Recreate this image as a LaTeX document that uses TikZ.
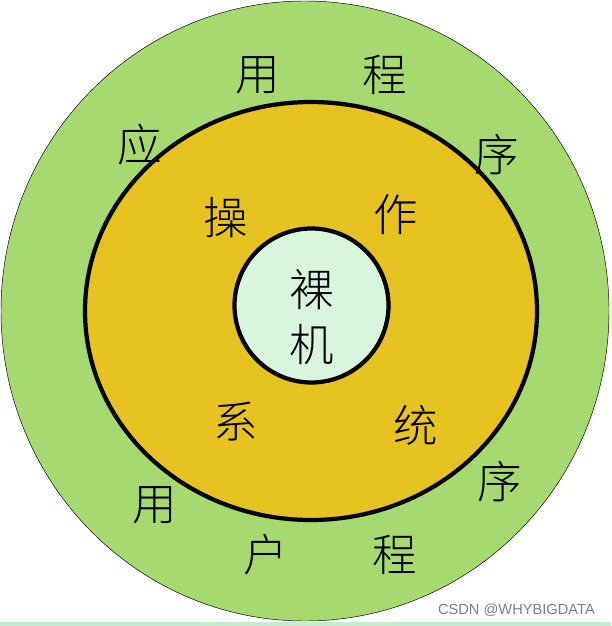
\documentclass[tikz,border=0pt]{standalone}
\usepackage{fontspec}
\newfontfamily\cjk{Noto Sans CJK SC Light}
\setsansfont{Liberation Sans}
\usepackage{xcolor}
\definecolor{ringgreen}{RGB}{166,217,112}
\definecolor{ringyellow}{RGB}{230,195,32}
\definecolor{coremint}{RGB}{216,246,222}
\definecolor{stripgreen}{RGB}{200,235,208}

\begin{document}
\begin{tikzpicture}[x=0.03cm, y=-0.03cm,
  hanzi/.style={font=\cjk\fontsize{38}{38}\selectfont, inner sep=0}]
\useasboundingbox (0,0) rectangle (611,626);
\fill[stripgreen] (0,622) rectangle (611,626);
\draw[black, thin, fill=ringgreen] (305,311) ellipse (304 and 310);
\draw[black, line width=3.6pt, fill=ringyellow] (311,311) ellipse (226 and 209);
\draw[black, line width=3.6pt, fill=coremint] (311.5,305.5) circle (77);
\foreach \n/\x/\y/\c in {appA/140/145/应, appB/258/75/用, appC/385/75/程, appD/497/155/序,
  osA/226/218/操, osB/396/215/作, osC/236/422/系, osD/416/425/统,
  bareA/312/290/裸, bareB/312/345/机,
  usrA/155/505/用, usrB/266/555/户, usrC/395/555/程, usrD/500/482/序} {
\node[hanzi] (\n) at (\x,\y) {\c};
}
\node[anchor=east, text=gray, font=\sffamily\fontsize{12.5}{12.5}\selectfont, inner sep=0] (mark) at (595,610.5) {CSDN @WHYBIGDATA};
\end{tikzpicture}
\end{document}
